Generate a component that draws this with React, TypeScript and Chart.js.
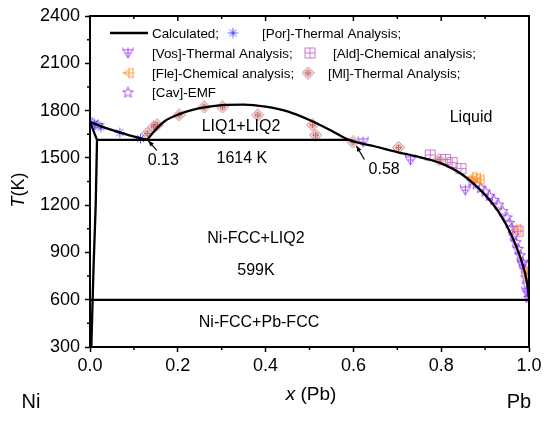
import React, { useEffect, useRef } from 'react';
import { Chart, registerables } from 'chart.js';
Chart.register(...registerables);

const FONT = '"Liberation Sans", Arial, sans-serif';

// ---- Calculated phase boundaries ----
const liqNiX = [0, 0.03, 0.06, 0.09, 0.11, 0.13];
const liqNiT = [1728, 1695, 1668, 1643, 1628, 1614];
const domeX = [0.13, 0.15, 0.17, 0.2, 0.25, 0.3, 0.35, 0.4, 0.45, 0.5, 0.55, 0.59, 0.65, 0.7, 0.75, 0.8, 0.85, 0.9, 0.93, 0.96, 0.98, 0.99, 0.997, 1.0];
const domeT = [1614, 1680, 1732, 1774, 1815, 1835, 1838, 1825, 1795, 1740, 1672, 1614, 1572, 1537, 1505, 1465, 1390, 1265, 1160, 1010, 870, 780, 680, 600];
const solvusX = [0, 0.016, 0.013, 0.008, 0.003];
const solvusT = [1728, 1614, 1200, 800, 300];
const monoX = [0.016, 0.59];
const monoT = [1614, 1614];
const eutX = [0, 1];
const eutT = [599, 599];

// ---- Experimental data ----
const porX = [0.01, 0.025, 0.068, 0.115];
const porT = [1715, 1695, 1660, 1622];
const vosX = [0.622, 0.73, 0.855, 0.985, 0.995];
const vosT = [1601, 1487, 1296, 820, 650];
const aldX = [0.775, 0.81, 0.825, 0.845, 0.975];
const aldT = [1518, 1490, 1470, 1432, 1035];
const fleX = [0.87, 0.878, 0.886, 0.97, 0.993, 0.997];
const fleT = [1378, 1370, 1360, 1048, 780, 740];
const mlX = [0.13, 0.145, 0.153, 0.203, 0.26, 0.302, 0.382, 0.507, 0.514, 0.599, 0.703, 0.795];
const mlT = [1655, 1696, 1709, 1772, 1823, 1823, 1772, 1709, 1645, 1601, 1565, 1488];
const cavX = [0.005, 0.018, 0.87, 0.88, 0.89, 0.9, 0.91, 0.92, 0.93, 0.94, 0.95, 0.955, 0.96, 0.965, 0.97, 0.975, 0.98, 0.985, 0.99, 0.993, 0.996, 0.998, 1.0];
const cavT = [1725, 1712, 1355, 1335, 1312, 1290, 1262, 1236, 1205, 1165, 1125, 1090, 1058, 1010, 968, 925, 885, 842, 795, 745, 700, 650, 615];

// ---- Text labels (data coordinates) ----
const labelText = ['LIQ1+LIQ2', '1614 K', '0.13', '0.58', 'Liquid', 'Ni-FCC+LIQ2', '599K', 'Ni-FCC+Pb-FCC'];
const labelX = [0.344, 0.346, 0.167, 0.67, 0.868, 0.378, 0.378, 0.385];
const labelT = [1696, 1495, 1480, 1423, 1753, 985, 782, 452];

const COL = {
  por: '#4646ff', vos: '#a040ff', ald: '#c864c8', fle: '#ff9428', ml: '#bc5450', cav: '#9038f0',
};

function pts(xs: number[], ys: number[]) {
  return xs.map((x, i) => ({ x, y: ys[i] }));
}

function makeMarker(kind: string, color: string): HTMLCanvasElement {
  const s = 13;
  const c = document.createElement('canvas');
  c.width = s; c.height = s;
  const g = c.getContext('2d')!;
  g.strokeStyle = color; g.lineWidth = 0.9;
  const m = 6.5;
  g.beginPath();
  if (kind === 'asterisk') {
    for (let i = 0; i < 4; i++) {
      const a = i * Math.PI / 4;
      g.moveTo(m + 5 * Math.cos(a), m + 5 * Math.sin(a));
      g.lineTo(m - 5 * Math.cos(a), m - 5 * Math.sin(a));
    }
  } else if (kind === 'star') {
    for (let i = 0; i < 10; i++) {
      const r = i % 2 ? 2.4 : 5.6;
      const a = -Math.PI / 2 + i * Math.PI / 5;
      const x = m + r * Math.cos(a), y = m + 0.7 + r * Math.sin(a);
      if (i) g.lineTo(x, y); else g.moveTo(x, y);
    }
    g.closePath();
  } else if (kind === 'vos') {
    g.moveTo(1.5, 3.5); g.lineTo(11.5, 3.5); g.lineTo(m, 11.5); g.closePath();
    g.moveTo(m, 1); g.lineTo(m, 11.5);
    g.moveTo(3.5, 6.5); g.lineTo(9.5, 6.5);
    g.moveTo(1.5, 1); g.lineTo(1.5, 3.5); g.moveTo(11.5, 1); g.lineTo(11.5, 3.5);
  } else if (kind === 'ald') {
    g.rect(1.5, 1.5, 10, 10);
    g.moveTo(m, 1.5); g.lineTo(m, 11.5);
    g.moveTo(1.5, m); g.lineTo(11.5, m);
  } else if (kind === 'fle') {
    g.moveTo(1.5, m); g.lineTo(11.5, 1.5); g.lineTo(11.5, 11.5); g.closePath();
    g.moveTo(7.5, 1); g.lineTo(7.5, 12);
    g.moveTo(1.5, m); g.lineTo(12.5, m);
  } else if (kind === 'ml') {
    g.moveTo(m, 0.7); g.lineTo(12.3, m); g.lineTo(m, 12.3); g.lineTo(0.7, m); g.closePath();
    g.moveTo(m + 2.5, m); g.arc(m, m, 2.5, 0, Math.PI * 2);
    g.moveTo(m, 3); g.lineTo(m, 10);
    g.moveTo(3, m); g.lineTo(10, m);
  }
  g.stroke();
  return c;
}

export default function App() {
  const ref = useRef<HTMLCanvasElement>(null);
  useEffect(() => {
    document.body.style.margin = '0';
    const mk = {
      por: makeMarker('asterisk', COL.por),
      vos: makeMarker('vos', COL.vos),
      ald: makeMarker('ald', COL.ald),
      fle: makeMarker('fle', COL.fle),
      ml: makeMarker('ml', COL.ml),
      cav: makeMarker('star', COL.cav),
    };
    const lineDs = (xs: number[], ys: number[], mono: boolean) => ({
      type: 'line' as const,
      data: pts(xs, ys),
      borderColor: '#000',
      borderWidth: 2.3,
      pointRadius: 0,
      showLine: true,
      fill: false,
      cubicInterpolationMode: mono ? 'monotone' : 'default',
      tension: 0,
    });
    const scatDs = (xs: number[], ys: number[], img: HTMLCanvasElement) => ({
      type: 'scatter' as const,
      data: pts(xs, ys),
      pointStyle: img,
      pointRadius: 6,
      showLine: false,
    });

    const overlay = {
      id: 'overlay',
      afterDraw(chart: any) {
        const ctx = chart.ctx as CanvasRenderingContext2D;
        const xs = chart.scales.x, ys = chart.scales.y;
        const a = chart.chartArea;
        ctx.save();
        // frame top/right
        ctx.strokeStyle = '#000'; ctx.lineWidth = 2;
        ctx.beginPath();
        ctx.moveTo(a.left, a.top); ctx.lineTo(a.right, a.top); ctx.lineTo(a.right, a.bottom);
        ctx.stroke();
        // minor ticks
        ctx.lineWidth = 1.5;
        ctx.beginPath();
        for (let v = 450; v < 2400; v += 300) {
          const py = ys.getPixelForValue(v);
          ctx.moveTo(a.left - 3, py); ctx.lineTo(a.left, py);
        }
        for (let i = 1; i < 10; i += 2) {
          const px = xs.getPixelForValue(i / 10);
          ctx.moveTo(px, a.bottom); ctx.lineTo(px, a.bottom + 3);
        }
        for (let i = 1; i < 10; i++) {
          const px = xs.getPixelForValue(i / 10);
          ctx.moveTo(px, a.top); ctx.lineTo(px, a.top + (i % 2 ? 3 : 5));
        }
        ctx.stroke();

        // annotations
        ctx.fillStyle = '#000';
        ctx.textAlign = 'center'; ctx.textBaseline = 'middle';
        ctx.font = `16px ${FONT}`;
        labelText.forEach((t, i) => {
          ctx.fillText(t, xs.getPixelForValue(labelX[i]), ys.getPixelForValue(labelT[i]));
        });
        // arrows
        const arrow = (x0: number, t0: number, x1: number, t1: number) => {
          const p0x = xs.getPixelForValue(x0), p0y = ys.getPixelForValue(t0);
          const p1x = xs.getPixelForValue(x1), p1y = ys.getPixelForValue(t1);
          const ang = Math.atan2(p1y - p0y, p1x - p0x);
          ctx.lineWidth = 1.2;
          ctx.beginPath(); ctx.moveTo(p0x, p0y); ctx.lineTo(p1x, p1y); ctx.stroke();
          ctx.beginPath();
          ctx.moveTo(p1x, p1y);
          ctx.lineTo(p1x - 6 * Math.cos(ang - 0.4), p1y - 6 * Math.sin(ang - 0.4));
          ctx.lineTo(p1x - 6 * Math.cos(ang + 0.4), p1y - 6 * Math.sin(ang + 0.4));
          ctx.closePath(); ctx.fill();
        };
        arrow(0.152, 1548, 0.133, 1608);
        arrow(0.625, 1490, 0.607, 1575);

        // legend
        ctx.font = `13.4px ${FONT}`;
        ctx.textAlign = 'left';
        ctx.lineWidth = 2.3;
        ctx.beginPath(); ctx.moveTo(110, 33); ctx.lineTo(148, 33); ctx.stroke();
        const leg: [HTMLCanvasElement | null, number, number, number, string][] = [
          [null, 0, 33, 152, 'Calculated;'],
          [mk.por, 233, 33, 262, '[Por]-Thermal Analysis;'],
          [mk.vos, 128, 53, 152, '[Vos]-Thermal Analysis;'],
          [mk.ald, 310, 53, 333, '[Ald]-Chemical analysis;'],
          [mk.fle, 128, 73, 152, '[Fle]-Chemical analysis;'],
          [mk.ml, 308, 73, 328, '[Ml]-Thermal Analysis;'],
          [mk.cav, 128, 92, 152, '[Cav]-EMF'],
        ];
        leg.forEach(([img, mx, my, tx, text]) => {
          if (img) ctx.drawImage(img, mx - img.width / 2, my - img.height / 2);
          ctx.fillText(text, tx, my + 1);
        });

        // axis titles
        ctx.textAlign = 'left';
        const drawMixed = (parts: [string, boolean][], cx: number, cy: number, size: number) => {
          let w = 0;
          parts.forEach(([t, it]) => { ctx.font = `${it ? 'italic ' : ''}${size}px ${FONT}`; w += ctx.measureText(t).width; });
          let x = cx - w / 2;
          parts.forEach(([t, it]) => {
            ctx.font = `${it ? 'italic ' : ''}${size}px ${FONT}`;
            ctx.fillText(t, x, cy);
            x += ctx.measureText(t).width;
          });
        };
        drawMixed([['x', true], [' (Pb)', false]], 311, 395, 19);
        ctx.save();
        ctx.translate(19, 190); ctx.rotate(-Math.PI / 2);
        drawMixed([['T', true], ['(K)', false]], 0, 0, 18);
        ctx.restore();
        ctx.textAlign = 'center';
        ctx.font = `20px ${FONT}`;
        ctx.fillText('Ni', 31, 402);
        ctx.fillText('Pb', 519, 402);
        ctx.restore();
      },
    };

    const chart = new Chart(ref.current!, {
      type: 'scatter',
      data: {
        datasets: [
          lineDs(liqNiX, liqNiT, true),
          lineDs(domeX, domeT, true),
          lineDs(solvusX, solvusT, false),
          lineDs(monoX, monoT, false),
          lineDs(eutX, eutT, false),
          scatDs(porX, porT, mk.por),
          scatDs(vosX, vosT, mk.vos),
          scatDs(aldX, aldT, mk.ald),
          scatDs(fleX, fleT, mk.fle),
          scatDs(mlX, mlT, mk.ml),
          scatDs(cavX, cavT, mk.cav),
        ] as any,
      },
      options: {
        responsive: false,
        animation: false,
        devicePixelRatio: 1,
        layout: { padding: { top: 16, right: 21, left: 0, bottom: 0 } },
        plugins: { legend: { display: false }, tooltip: { enabled: false } },
        scales: {
          x: {
            type: 'linear', min: 0, max: 1,
            afterFit: (s: any) => { s.height = 78; },
            ticks: {
              stepSize: 0.1, autoSkip: false, maxRotation: 0, padding: 3, color: '#000',
              font: { family: FONT, size: 18 },
              callback: (v: any) => (Math.round(Number(v) * 10) % 2 === 0 ? Number(v).toFixed(1) : ''),
            },
            grid: {
              drawOnChartArea: false, tickLength: 5, tickWidth: 1.5,
              tickColor: (c: any) => (Math.round(c.tick.value * 10) % 2 === 0 ? '#000' : 'rgba(0,0,0,0)'),
            },
            border: { color: '#000', width: 2 },
          },
          y: {
            type: 'linear', min: 300, max: 2400,
            afterFit: (s: any) => { s.width = 90; },
            ticks: {
              stepSize: 150, autoSkip: false, padding: 5, color: '#000',
              font: { family: FONT, size: 18 },
              callback: (v: any) => ((Number(v) - 300) % 300 === 0 ? String(v) : ''),
            },
            grid: {
              drawOnChartArea: false, tickLength: 5, tickWidth: 1.5,
              tickColor: (c: any) => ((c.tick.value - 300) % 300 === 0 ? '#000' : 'rgba(0,0,0,0)'),
            },
            border: { color: '#000', width: 2 },
          },
        },
      },
      plugins: [overlay],
    } as any);
    return () => chart.destroy();
  }, []);
  return (
    <div style={{ width: 550, height: 425 }}>
      <canvas ref={ref} width={550} height={425} style={{ display: 'block' }} />
    </div>
  );
}
